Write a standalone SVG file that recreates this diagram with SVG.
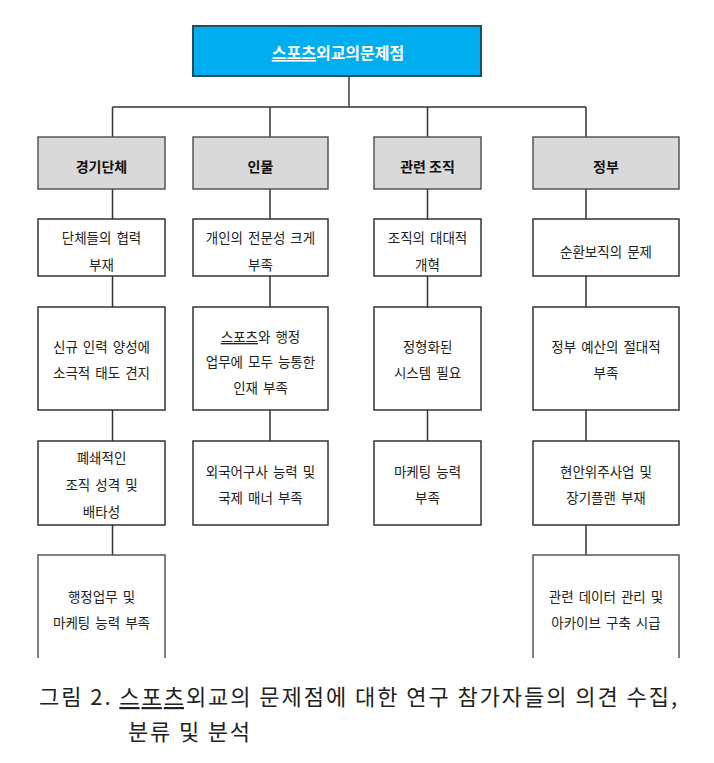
<svg xmlns="http://www.w3.org/2000/svg" width="714" height="763" viewBox="0 0 714 763">
<style>
.bg{fill:#ffffff}
.conn{stroke:#333333;stroke-width:1.5;fill:none}
.conn-top{stroke:#6e6e6e;stroke-width:2;fill:none}
.root{fill:#00AEEF;stroke:#1f4f66;stroke-width:2}
.root-t{font-family:"Noto Sans CJK KR","Noto Sans",sans-serif;font-size:16px;font-weight:bold;fill:#ffffff;text-anchor:middle}
.hdr{fill:#D9D9D9;stroke:#555555;stroke-width:1.5}
.hdr-t{font-family:"Noto Sans CJK KR","Noto Sans",sans-serif;font-size:14px;font-weight:bold;fill:#111111;text-anchor:middle}
.box{fill:#ffffff;stroke:#333333;stroke-width:1.5}
.open{fill:#ffffff;stroke:#555555;stroke-width:1.5}
.t{font-family:"Noto Sans CJK KR","Noto Sans",sans-serif;font-size:13.5px;fill:#222222;text-anchor:middle;word-spacing:2px}
.cap{font-family:"Noto Sans CJK KR","Noto Sans",sans-serif;font-size:22px;fill:#222222}
</style>
<rect class="bg" x="0" y="0" width="714" height="763"/>
<g id="connectors">
<line class="conn-top" x1="349" y1="77" x2="349" y2="107"/>
<line class="conn" x1="112.5" y1="107" x2="586" y2="107"/>
<line class="conn" x1="112.5" y1="107" x2="112.5" y2="137"/>
<line class="conn" x1="270" y1="107" x2="270" y2="137"/>
<line class="conn" x1="427.5" y1="107" x2="427.5" y2="137"/>
<line class="conn" x1="586" y1="107" x2="586" y2="137"/>
<line class="conn" x1="112.5" y1="189" x2="112.5" y2="219"/>
<line class="conn" x1="112.5" y1="276" x2="112.5" y2="307"/>
<line class="conn" x1="112.5" y1="410" x2="112.5" y2="441"/>
<line class="conn" x1="112.5" y1="525" x2="112.5" y2="555"/>
<line class="conn" x1="270" y1="189" x2="270" y2="219"/>
<line class="conn" x1="270" y1="276" x2="270" y2="307"/>
<line class="conn" x1="270" y1="410" x2="270" y2="441"/>
<line class="conn" x1="427.5" y1="189" x2="427.5" y2="219"/>
<line class="conn" x1="427.5" y1="276" x2="427.5" y2="307"/>
<line class="conn" x1="427.5" y1="410" x2="427.5" y2="441"/>
<line class="conn" x1="586" y1="189" x2="586" y2="219"/>
<line class="conn" x1="586" y1="276" x2="586" y2="307"/>
<line class="conn" x1="586" y1="410" x2="586" y2="441"/>
<line class="conn" x1="586" y1="525" x2="586" y2="555"/>
</g>
<g id="root">
<rect class="root" x="193" y="26" width="288" height="50"/>
<text class="root-t" x="338" y="59"><tspan text-decoration="underline">스포츠</tspan>외교의문제점</text>
</g>
<g id="h1"><rect class="hdr" x="38" y="137" width="127" height="52"/><text class="hdr-t" x="101.5" y="172">경기단체</text></g>
<g id="h2"><rect class="hdr" x="193" y="137" width="135" height="52"/><text class="hdr-t" x="260.5" y="172">인물</text></g>
<g id="h3"><rect class="hdr" x="374" y="137" width="107" height="52"/><text class="hdr-t" x="427.5" y="172">관련 조직</text></g>
<g id="h4"><rect class="hdr" x="533" y="137" width="146" height="52"/><text class="hdr-t" x="606" y="172">정부</text></g>

<g id="c1n1"><rect class="box" x="38" y="219" width="127" height="57"/><text class="t" x="101.5" y="243">단체들의 협력</text><text class="t" x="101.5" y="270">부재</text></g>
<g id="c1n2"><rect class="box" x="38" y="307" width="127" height="103"/><text class="t" x="101.5" y="352">신규 인력 양성에</text><text class="t" x="101.5" y="378">소극적 태도 견지</text></g>
<g id="c1n3"><rect class="box" x="38" y="441" width="127" height="84"/><text class="t" x="101.5" y="463">폐쇄적인</text><text class="t" x="101.5" y="490">조직 성격 및</text><text class="t" x="101.5" y="517">배타성</text></g>
<g id="c1n4"><path class="open" d="M38,658 V555 H165 V658"/><text class="t" x="101.5" y="602">행정업무 및</text><text class="t" x="101.5" y="628">마케팅 능력 부족</text></g>

<g id="c2n1"><rect class="box" x="193" y="219" width="135" height="57"/><text class="t" x="260.5" y="243">개인의 전문성 크게</text><text class="t" x="260.5" y="270">부족</text></g>
<g id="c2n2"><rect class="box" x="193" y="307" width="135" height="103"/><text class="t" x="260.5" y="342"><tspan text-decoration="underline">스포츠</tspan>와 행정</text><text class="t" x="260.5" y="367">업무에 모두 능통한</text><text class="t" x="260.5" y="393">인재 부족</text></g>
<g id="c2n3"><rect class="box" x="193" y="441" width="135" height="84"/><text class="t" x="260.5" y="477">외국어구사 능력 및</text><text class="t" x="260.5" y="503">국제 매너 부족</text></g>

<g id="c3n1"><rect class="box" x="374" y="219" width="107" height="57"/><text class="t" x="427.5" y="243">조직의 대대적</text><text class="t" x="427.5" y="270">개혁</text></g>
<g id="c3n2"><rect class="box" x="374" y="307" width="107" height="103"/><text class="t" x="427.5" y="352">정형화된</text><text class="t" x="427.5" y="378">시스템 필요</text></g>
<g id="c3n3"><rect class="box" x="374" y="441" width="107" height="84"/><text class="t" x="427.5" y="477">마케팅 능력</text><text class="t" x="427.5" y="503">부족</text></g>

<g id="c4n1"><rect class="box" x="533" y="219" width="146" height="57"/><text class="t" x="606" y="257">순환보직의 문제</text></g>
<g id="c4n2"><rect class="box" x="533" y="307" width="146" height="103"/><text class="t" x="606" y="352">정부 예산의 절대적</text><text class="t" x="606" y="378">부족</text></g>
<g id="c4n3"><rect class="box" x="533" y="441" width="146" height="84"/><text class="t" x="606" y="477">현안위주사업 및</text><text class="t" x="606" y="503">장기플랜 부재</text></g>
<g id="c4n4"><path class="open" d="M533,658 V555 H679 V658"/><text class="t" x="606" y="602">관련 데이터 관리 및</text><text class="t" x="606" y="628">아카이브 구축 시급</text></g>

<g id="caption">
<text class="cap" x="39" y="705" textLength="638" lengthAdjust="spacing">그림 2. <tspan text-decoration="underline">스포츠</tspan>외교의 문제점에 대한 연구 참가자들의 의견 수집,</text>
<text class="cap" x="128" y="740" textLength="122" lengthAdjust="spacing">분류 및 분석</text>
</g>
</svg>
